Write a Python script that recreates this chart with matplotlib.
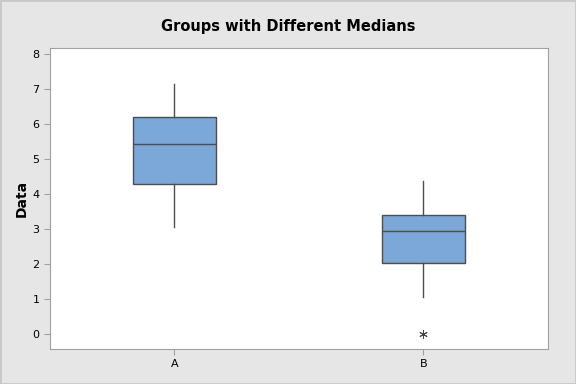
import matplotlib.pyplot as plt
from matplotlib.patches import Rectangle

groups = ['A', 'B']
whislo = [3.05, 1.07]
q1 = [4.28, 2.02]
med = [5.42, 2.94]
q3 = [6.19, 3.39]
whishi = [7.14, 4.37]
fliers = [[], [0.0]]

stats = []
for i in range(len(groups)):
    stats.append(dict(label=groups[i], whislo=whislo[i], q1=q1[i], med=med[i],
                      q3=q3[i], whishi=whishi[i], fliers=fliers[i]))

fig = plt.figure(figsize=(5.76, 3.84), dpi=100, facecolor='#e6e6e6')
fig.patches.append(Rectangle((0, 0), 1, 1, transform=fig.transFigure, fill=False,
                             edgecolor='#c8c8c8', linewidth=2))
ax = fig.add_axes([0.0868, 0.0911, 0.8642, 0.7839])
ax.set_facecolor('white')

ax.bxp(stats, positions=[1, 2], widths=0.333, patch_artist=True, showcaps=False,
       boxprops=dict(facecolor='#7ba7d9', edgecolor='#4d4d4d', linewidth=1),
       medianprops=dict(color='#4d4d4d', linewidth=1),
       whiskerprops=dict(color='#4d4d4d', linewidth=1),
       flierprops=dict(marker=(6, 2, 0), markersize=6, markeredgecolor='#444444',
                       markeredgewidth=0.7, linestyle='none'))

ax.set_xlim(0.5, 2.5)
ax.set_ylim(-0.43, 8.17)
ax.set_yticks(range(0, 9))
ax.set_xticks([1, 2])
ax.set_xticklabels(groups)
for s in ax.spines.values():
    s.set_color('#a0a0a0')
ax.tick_params(colors='#a0a0a0', labelcolor='black', labelsize=8, length=4)
ax.set_ylabel('Data', fontsize=10, fontweight='bold', labelpad=3)
fig.suptitle('Groups with Different Medians', fontsize=10.5, fontweight='bold', y=0.95)

fig.savefig('out.png', dpi=100, facecolor=fig.get_facecolor())
